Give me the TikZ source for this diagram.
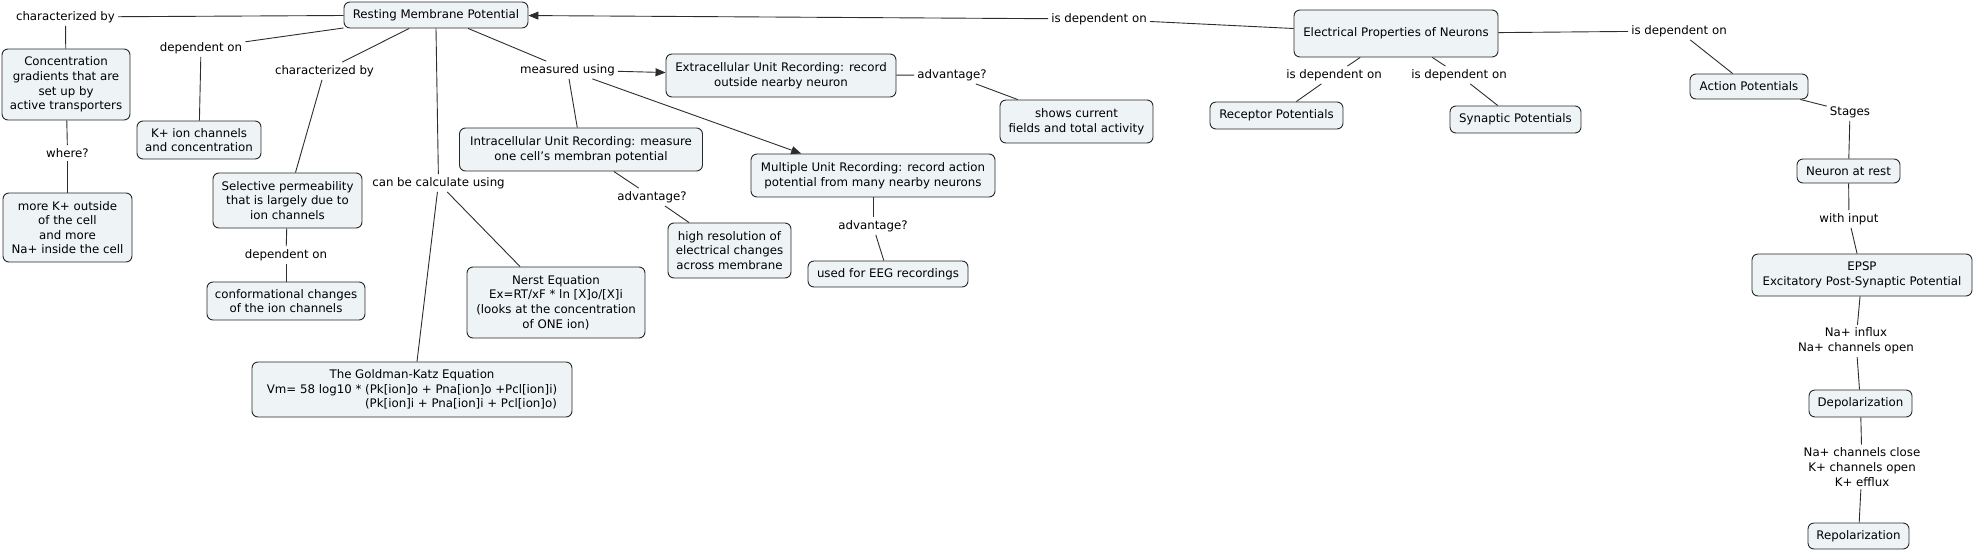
\documentclass[tikz,border=0pt]{standalone}
\usepackage{fontspec}
\setmainfont{DejaVu Sans}
\usetikzlibrary{arrows.meta}
\definecolor{boxfill}{RGB}{238,243,245}
\definecolor{boxline}{RGB}{40,40,40}
\definecolor{conn}{RGB}{45,45,45}
\tikzset{
  every node/.style={font=\fontsize{11.8}{14.6}\selectfont, align=center},
  cbox/.style={draw=boxline, fill=boxfill, line width=0.9pt, rounded corners=6pt, inner sep=2pt},
  lbl/.style={inner sep=3pt},
  link/.style={draw=conn, line width=0.9pt},
  arr/.style={link, -{Triangle[length=10pt,width=8pt]}},
}
\begin{document}
\begin{tikzpicture}[x=1pt,y=-1pt]
\useasboundingbox (0,0) rectangle (1974,552);
% concept boxes
\node[cbox, minimum width=184pt, minimum height=26pt] (rmp) at (436,15) {Resting Membrane Potential};
\node[cbox, minimum width=128pt, minimum height=71pt] (conc) at (66,84.5) {Concentration\\gradients that are\\set up by\\active transporters};
\node[cbox, minimum width=129pt, minimum height=69pt] (morek) at (67.5,227.5) {more K+ outside\\of the cell\\and more\\Na+ inside the cell};
\node[cbox, minimum width=124pt, minimum height=38pt] (kion) at (199,140) {K+ ion channels\\and concentration};
\node[cbox, minimum width=149pt, minimum height=55pt] (sel) at (287.5,200.5) {Selective permeability\\that is largely due to\\ion channels};
\node[cbox, minimum width=158pt, minimum height=38pt] (conf) at (286,301) {conformational changes\\of the ion channels};
\node[cbox, minimum width=178pt, minimum height=71pt] (nernst) at (556,302.5) {Nerst Equation\\Ex=RT/xF * ln [X]o/[X]i\\(looks at the concentration\\of ONE ion)};
\node[cbox, minimum width=320pt, minimum height=55pt] (gold) at (412,389.5) {The Goldman-Katz Equation\\Vm= 58 log10 * (Pk[ion]o + Pna[ion]o +Pcl[ion]i)\\\hspace*{98pt}(Pk[ion]i + Pna[ion]i + Pcl[ion]o)};
\node[cbox, minimum width=230pt, minimum height=43pt] (ext) at (781,75.5) {Extracellular Unit Recording: record\\outside nearby neuron};
\node[cbox, minimum width=243pt, minimum height=43pt] (intra) at (581,149.5) {Intracellular Unit Recording: measure\\one cell's membran potential};
\node[cbox, minimum width=123pt, minimum height=55pt] (hires) at (729.5,250.5) {high resolution of\\electrical changes\\across membrane};
\node[cbox, minimum width=244pt, minimum height=43pt] (mult) at (873,175.5) {Multiple Unit Recording: record action\\potential from many nearby neurons};
\node[cbox, minimum width=160pt, minimum height=26pt] (eeg) at (888,274) {used for EEG recordings};
\node[cbox, minimum width=153pt, minimum height=43pt] (shows) at (1076.5,121.5) {shows current\\fields and total activity};
\node[cbox, minimum width=204pt, minimum height=47pt] (epn) at (1396,33.5) {Electrical Properties of Neurons};
\node[cbox, minimum width=133pt, minimum height=27pt] (rec) at (1276.5,115.5) {Receptor Potentials};
\node[cbox, minimum width=131pt, minimum height=27pt] (syn) at (1515.5,119.5) {Synaptic Potentials};
\node[cbox, minimum width=118pt, minimum height=25pt] (ap) at (1749,86.5) {Action Potentials};
\node[cbox, minimum width=103pt, minimum height=24pt] (rest) at (1848.5,171) {Neuron at rest};
\node[cbox, minimum width=220pt, minimum height=42pt] (epsp) at (1862,275) {EPSP\\Excitatory Post-Synaptic Potential};
\node[cbox, minimum width=103pt, minimum height=27pt] (depol) at (1860.5,403.5) {Depolarization};
\node[cbox, minimum width=101pt, minimum height=26pt] (repol) at (1858.5,536) {Repolarization};
% linking phrases
\node[lbl] (l1) at (65.5,17) {characterized by};
\node[lbl] (l2) at (201,48) {dependent on};
\node[lbl] (l3) at (324.5,71) {characterized by};
\node[lbl] (l4) at (67.5,153) {where?};
\node[lbl] (l5) at (286,255) {dependent on};
\node[lbl] (l6) at (438.5,183) {can be calculate using};
\node[lbl] (l7) at (567.5,70) {measured using};
\node[lbl] (l8) at (652,197) {advantage?};
\node[lbl] (l9) at (873,226) {advantage?};
\node[lbl] (l10) at (952,75) {advantage?};
\node[lbl] (l11) at (1099,19) {is dependent on};
\node[lbl] (l12) at (1334,75) {is dependent on};
\node[lbl] (l13) at (1459,75) {is dependent on};
\node[lbl] (l14) at (1679,31) {is dependent on};
\node[lbl] (l15) at (1850,112) {Stages};
\node[lbl] (l16) at (1849,219) {with input};
\node[lbl] (l17) at (1856,341) {Na+ influx\\Na+ channels open};
\node[lbl] (l18) at (1862,467) {Na+ channels close\\K+ channels open\\K+ efflux};
% connectors
\draw[link] (rmp) -- (l1);
\draw[link] (l1) -- (conc);
\draw[link] (conc) -- (l4);
\draw[link] (l4) -- (morek);
\draw[link] (rmp) -- (l2);
\draw[link] (l2) -- (kion);
\draw[link] (rmp) -- (l3);
\draw[link] (l3) -- (sel);
\draw[link] (sel) -- (l5);
\draw[link] (l5) -- (conf);
\draw[link] (rmp.south) -- (l6);
\draw[link] (l6) -- ([xshift=5pt]gold.north);
\draw[link] (l6) -- (nernst.135);
\draw[link] (rmp) -- (l7);
\draw[arr] (l7) -- (ext);
\draw[link] (l7) -- (intra);
\draw[arr] (l7) -- (mult.163);
\draw[link] (intra) -- (l8);
\draw[link] (l8) -- (hires);
\draw[link] (mult) -- (l9);
\draw[link] (l9) -- (eeg);
\draw[link] (ext) -- (l10);
\draw[link] (l10) -- (shows);
\draw[link] (epn) -- (l11);
\draw[arr] (l11) -- (rmp);
\draw[link] (epn) -- (l12);
\draw[link] (l12) -- (rec);
\draw[link] (epn) -- (l13);
\draw[link] (l13) -- (syn);
\draw[link] (epn) -- (l14);
\draw[link] (l14) -- (ap);
\draw[link] (ap) -- (l15);
\draw[link] (l15) -- (rest);
\draw[link] (rest) -- (l16);
\draw[link] (l16) -- (epsp);
\draw[link] (epsp) -- (l17);
\draw[link] (l17) -- (depol);
\draw[link] (depol) -- (l18);
\draw[link] (l18) -- (repol);
\end{tikzpicture}
\end{document}
